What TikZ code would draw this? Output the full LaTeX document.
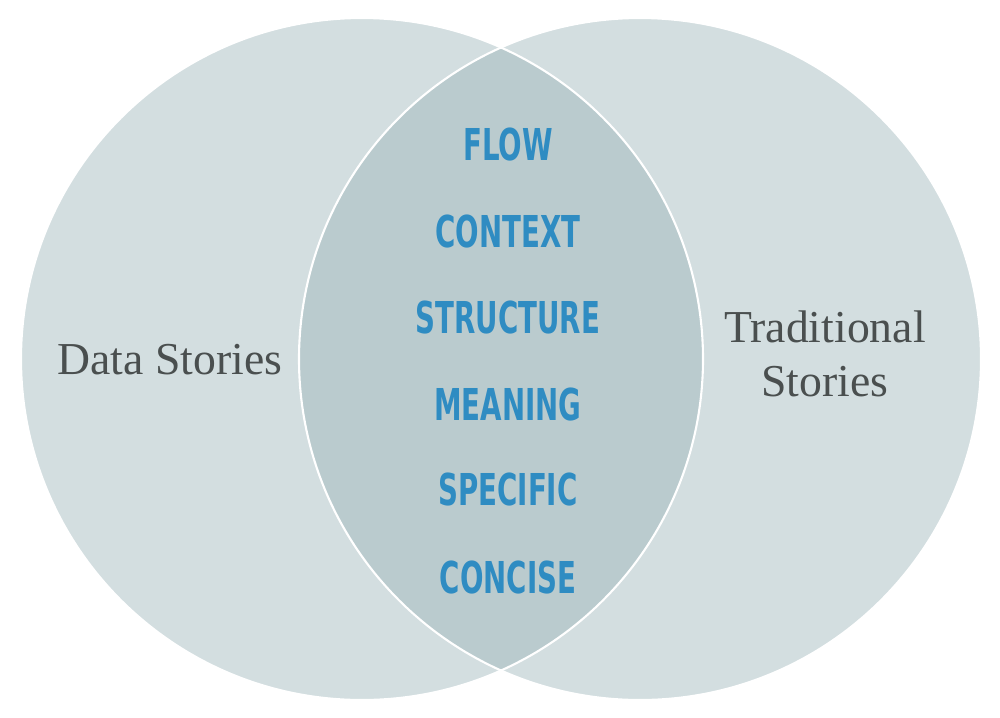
\documentclass[tikz,border=0pt]{standalone}
\usepackage{fontspec}
\setmainfont{Liberation Serif}
\newfontfamily\condf{DejaVu Sans Condensed}
\definecolor{circ}{HTML}{D3DEE0}
\definecolor{overlap}{HTML}{BACBCE}
\definecolor{word}{HTML}{2F8CC2}
\definecolor{lab}{HTML}{4A4F4F}
\begin{document}
\begin{tikzpicture}[x=0.02cm,y=-0.02cm,
  word/.style={text=word,font=\condf\bfseries\fontsize{25}{28}\selectfont,xscale=0.7,transform shape,inner sep=0},
  lab/.style={text=lab,font=\fontsize{26}{31}\selectfont,align=center}]
\useasboundingbox (0,0) rectangle (1000,717);
\fill[white] (0,0) rectangle (1000,717);
\fill[circ] (362,359) circle (341);
\fill[circ] (640,359) circle (341);
\begin{scope}
\clip (362,359) circle (341);
\fill[overlap] (640,359) circle (341);
\end{scope}
\draw[white,line width=1.2pt] (362,359) circle (341);
\draw[white,line width=1.2pt] (640,359) circle (341);
\node[word] (w1) at (508,145) {FLOW};
\node[word] (w2) at (508,232) {CONTEXT};
\node[word] (w3) at (508,318) {STRUCTURE};
\node[word] (w4) at (508,405) {MEANING};
\node[word] (w5) at (508,490) {SPECIFIC};
\node[word] (w6) at (508,577) {CONCISE};
\node[lab] (l1) at (170,360) {Data Stories};
\node[lab] (l2) at (825,354) {Traditional\\Stories};
\end{tikzpicture}
\end{document}
